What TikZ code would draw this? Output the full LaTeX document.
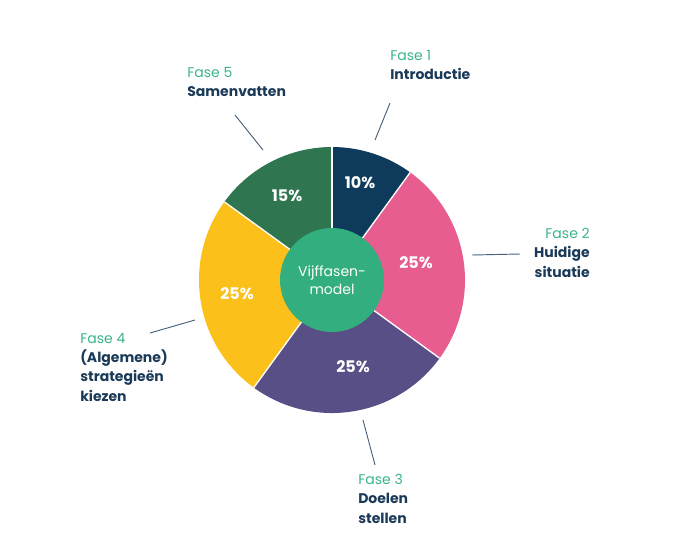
\documentclass[tikz,border=0pt]{standalone}
\usepackage{fontspec}
\setmainfont{Poppins}
\definecolor{navy}{HTML}{0E3A5B}
\definecolor{pinkc}{HTML}{E85D90}
\definecolor{purp}{HTML}{584F87}
\definecolor{yell}{HTML}{FBC01A}
\definecolor{dgreen}{HTML}{2F7550}
\definecolor{mgreen}{HTML}{33AE7E}
\definecolor{fase}{HTML}{3BB38A}
\definecolor{ltxt}{HTML}{1B3A57}
\begin{document}
\begin{tikzpicture}[x=0.75pt,y=-0.75pt,
  pct/.style={text=white,font=\bfseries\fontsize{12}{14}\selectfont},
  lab/.style={font=\fontsize{10.5}{14.5}\selectfont,text=ltxt,inner sep=0pt},
  leader/.style={draw=ltxt!80,line width=0.7pt}]
\useasboundingbox (0,0) rectangle (700,558);
\coordinate (c) at (332,280);
\def\R{133}
\fill[navy] (c) -- ++(-90:\R) arc[start angle=-90,end angle=-54,radius=\R] -- cycle;
\fill[pinkc] (c) -- ++(-54:\R) arc[start angle=-54,end angle=36,radius=\R] -- cycle;
\fill[purp] (c) -- ++(36:\R) arc[start angle=36,end angle=126,radius=\R] -- cycle;
\fill[yell] (c) -- ++(126:\R) arc[start angle=126,end angle=216,radius=\R] -- cycle;
\fill[dgreen] (c) -- ++(216:\R) arc[start angle=216,end angle=270,radius=\R] -- cycle;
\foreach \a in {-90,-54,36,126,216}{\draw[white,line width=1pt] (c) -- ++(\a:\R);}
\node[circle,fill=mgreen,minimum size=78pt,text=white,align=center,
  font=\fontsize{10.5}{13.5}\selectfont] (ctr) at (c) {Vijffasen-\\model};
\node[pct] (p1) at (360,183) {10\%};
\node[pct] (p2) at (416,263) {25\%};
\node[pct] (p3) at (353,367) {25\%};
\node[pct] (p4) at (237,294) {25\%};
\node[pct] (p5) at (287,196) {15\%};
\node[lab,anchor=north west,align=left] (l1) at (390,50) {\textcolor{fase}{Fase 1}\\\bfseries Introductie};
\node[lab,anchor=north east,align=right] (l2) at (590,228) {\textcolor{fase}{Fase 2}\\\bfseries Huidige\\\bfseries situatie};
\node[lab,anchor=north west,align=left] (l3) at (358,474) {\textcolor{fase}{Fase 3}\\\bfseries Doelen\\\bfseries stellen};
\node[lab,anchor=north west,align=left] (l4) at (80,333) {\textcolor{fase}{Fase 4}\\\bfseries (Algemene)\\\bfseries strategieën\\\bfseries kiezen};
\node[lab,anchor=north west,align=left] (l5) at (187,67) {\textcolor{fase}{Fase 5}\\\bfseries Samenvatten};
\coordinate (a1) at (375,140); \coordinate (b1) at (390,103);
\coordinate (a2) at (472,255); \coordinate (b2) at (520,254);
\coordinate (a3) at (363,420); \coordinate (b3) at (375,465);
\coordinate (a4) at (195,320); \coordinate (b4) at (150,333);
\coordinate (a5) at (263,150); \coordinate (b5) at (235,115);
\foreach \i in {1,...,5}{\draw[leader] (a\i) -- (b\i);}
\end{tikzpicture}
\end{document}
